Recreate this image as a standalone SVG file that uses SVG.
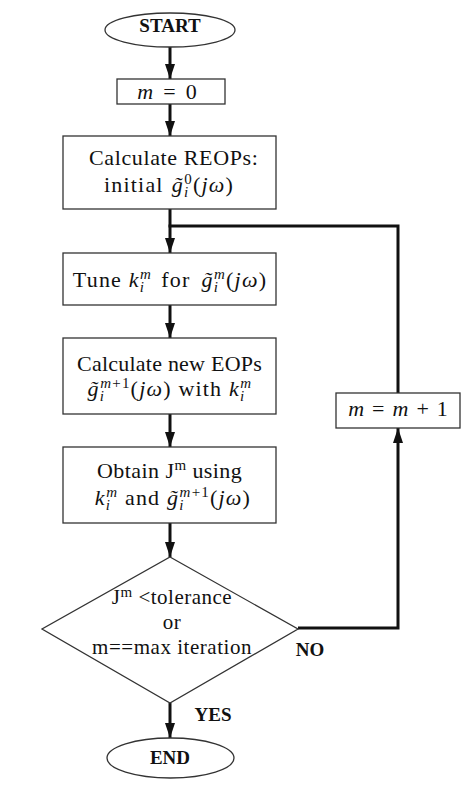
<svg xmlns="http://www.w3.org/2000/svg" width="474" height="786" viewBox="0 0 474 786">
<style>
.bx{fill:#fff;stroke:#333;stroke-width:1.3}
.cn{fill:none;stroke:#111;stroke-width:3}
.t{font-family:"Liberation Serif","Times New Roman",serif;font-size:22px;fill:#111;text-anchor:middle;letter-spacing:1.2px}
.b{font-weight:bold;font-size:19px;letter-spacing:0}
.d{font-size:21px;letter-spacing:0.5px}
.i{font-style:italic}
.s{font-size:15px}
</style>
<defs>
<marker id="ah" markerUnits="userSpaceOnUse" markerWidth="15" markerHeight="10" viewBox="0 0 15 10" refX="15" refY="5" orient="auto"><path d="M0,0 L15,5 L0,10 z" fill="#111"/></marker>
</defs>
<rect width="474" height="786" fill="#fff"/>
<g id="connectors">
<line class="cn" x1="170" y1="47" x2="170" y2="79" marker-end="url(#ah)"/>
<line class="cn" x1="170" y1="104" x2="170" y2="136" marker-end="url(#ah)"/>
<line class="cn" x1="170" y1="209" x2="170" y2="253" marker-end="url(#ah)"/>
<path class="cn" d="M398,393 V226 H168.5"/>
<line class="cn" x1="170" y1="305" x2="170" y2="338" marker-end="url(#ah)"/>
<line class="cn" x1="170" y1="414" x2="170" y2="447" marker-end="url(#ah)"/>
<line class="cn" x1="170" y1="523" x2="170" y2="557" marker-end="url(#ah)"/>
<line class="cn" x1="170" y1="703" x2="170" y2="738" marker-end="url(#ah)"/>
<path class="cn" d="M298,628 H398 V428" marker-end="url(#ah)"/>
</g>
<g id="start">
<ellipse class="bx" cx="170" cy="30" rx="65" ry="17"/>
<text class="t b" x="170" y="31.5">START</text>
</g>
<g id="m0">
<rect class="bx" x="117" y="79" width="108" height="25"/>
<text class="t" x="167" y="99" style="letter-spacing:0"><tspan class="i">m</tspan><tspan dx="10">=</tspan><tspan dx="10">0</tspan></text>
</g>
<g id="calc-reops">
<rect class="bx" x="63" y="136" width="213" height="73"/>
<text class="t" x="174" y="165" textLength="170" lengthAdjust="spacing">Calculate REOPs:</text>
<text class="t" x="169" y="192">initial<tspan class="i" dx="8">g̃</tspan><tspan class="i s" dy="5">i</tspan><tspan class="s" dx="-5" dy="-13">0</tspan><tspan dy="8">(</tspan><tspan class="i">jω</tspan>)</text>
</g>
<g id="tune">
<rect class="bx" x="63" y="253" width="213" height="52"/>
<text class="t" x="170" y="287">Tune <tspan class="i">k</tspan><tspan class="i s" dy="5">i</tspan><tspan class="i s" dx="-5" dy="-13">m</tspan><tspan dy="8" dx="9">for</tspan><tspan class="i" dx="11">g̃</tspan><tspan class="i s" dy="5">i</tspan><tspan class="i s" dx="-5" dy="-13">m</tspan><tspan dy="8">(</tspan><tspan class="i">jω</tspan>)</text>
</g>
<g id="calc-eops">
<rect class="bx" x="63" y="338" width="213" height="76"/>
<text class="t" x="170" y="371" textLength="186" lengthAdjust="spacing">Calculate new EOPs</text>
<text class="t" x="170" y="396"><tspan class="i">g̃</tspan><tspan class="i s" dy="5">i</tspan><tspan class="s" dx="-5" dy="-13"><tspan class="i">m</tspan>+1</tspan><tspan dy="8">(</tspan><tspan class="i">jω</tspan>) with <tspan class="i">k</tspan><tspan class="i s" dy="5">i</tspan><tspan class="i s" dx="-5" dy="-13">m</tspan></text>
</g>
<g id="obtain">
<rect class="bx" x="63" y="447" width="213" height="76"/>
<text class="t" x="170" y="478" textLength="146" lengthAdjust="spacing">Obtain J<tspan class="s" dy="-8">m</tspan><tspan dy="8"> using</tspan></text>
<text class="t" x="173" y="505"><tspan class="i">k</tspan><tspan class="i s" dy="5">i</tspan><tspan class="i s" dx="-5" dy="-13">m</tspan><tspan dy="8"> and </tspan><tspan class="i">g̃</tspan><tspan class="i s" dy="5">i</tspan><tspan class="s" dx="-5" dy="-13"><tspan class="i">m</tspan>+1</tspan><tspan dy="8">(</tspan><tspan class="i">jω</tspan>)</text>
</g>
<g id="decision">
<polygon class="bx" points="170,557 298,629 170,703 42,629"/>
<text class="t d" x="172" y="604">J<tspan class="s" dy="-7">m</tspan><tspan dy="7"> &lt;tolerance</tspan></text>
<text class="t d" x="172" y="629">or</text>
<text class="t d" x="172" y="654" textLength="160" lengthAdjust="spacing">m==max iteration</text>
</g>
<g id="mplus">
<rect class="bx" x="336" y="393" width="124" height="35"/>
<text class="t" x="398" y="416" style="letter-spacing:0"><tspan class="i">m</tspan><tspan dx="8">=</tspan><tspan class="i" dx="8">m</tspan><tspan dx="8">+</tspan><tspan dx="8">1</tspan></text>
</g>
<g id="end">
<ellipse class="bx" cx="170.5" cy="758" rx="63.5" ry="20"/>
<text class="t b" x="170" y="764">END</text>
</g>
<g id="labels">
<text class="t b" x="310" y="656">NO</text>
<text class="t b" x="213" y="721">YES</text>
</g>
</svg>
